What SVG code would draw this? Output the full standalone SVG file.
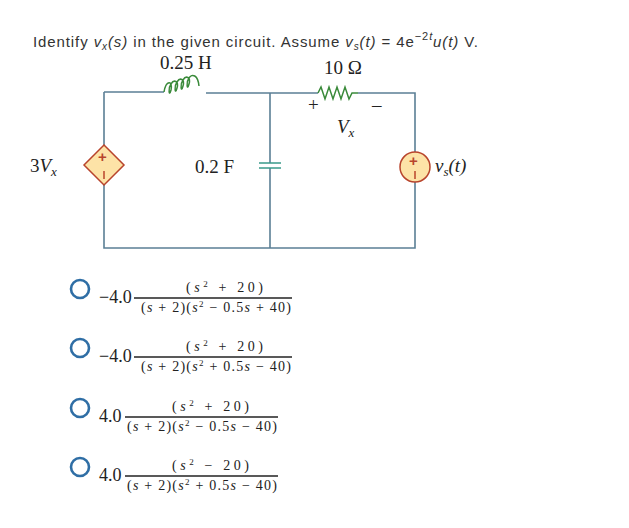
<svg xmlns="http://www.w3.org/2000/svg" width="629" height="528" viewBox="0 0 629 528">
<style>
.w{stroke:#5b7f95;stroke-width:1.6;fill:none}
.t{font-family:"Liberation Serif",serif;font-size:19px;fill:#222}
.s{font-family:"Liberation Sans",sans-serif;font-size:15px;fill:#333}
.m{font-family:"Liberation Serif",serif;font-size:14px;fill:#222}
.n{font-family:"Liberation Serif",serif;font-size:18px;fill:#222}
.o{fill:none;stroke:#2f6ea5;stroke-width:2.6}
.fl{stroke:#222;stroke-width:1.5}
</style>
<rect width="629" height="528" fill="#fff"/>
<text class="s" x="33" y="47" textLength="445" lengthAdjust="spacing">Identify <tspan font-style="italic">v</tspan><tspan font-style="italic" font-size="10" dy="3">x</tspan><tspan dy="-3" font-style="italic">(s)</tspan> in the given circuit. Assume <tspan font-style="italic">v</tspan><tspan font-style="italic" font-size="10" dy="3">s</tspan><tspan dy="-3" font-style="italic">(t)</tspan> = 4e<tspan font-size="11" dy="-7">−2</tspan><tspan font-size="11" font-style="italic">t</tspan><tspan dy="7" font-style="italic">u(t)</tspan> V.</text>
<g id="wires">
<path class="w" d="M104,92 V145 M104,185 V248 H415 V182 M415,152 V93 H358 M318,93 H270 V163 M270,168 V248 M270,93 H206 M164,92 H104"/>
</g>
<g id="inductor"><path d="M164,92 c2,-12 9,-12 7,-2 c-2,8 -3,-2 0,-6 c3,-5 8,-3 6,4 c-2,8 -3,-2 0,-6 c3,-5 8,-3 6,4 c-2,8 -3,-2 0,-6 c3,-5 8,-3 6,4 c-2,8 -3,-2 0,-6 c3,-5 9,-3 10,8" fill="none" stroke="#3a8a3a" stroke-width="1.5"/>
<text class="t" x="160" y="69">0.25 H</text></g>
<g id="resistor"><path d="M318,93 l3,-6 l4,12 l4,-12 l4,12 l4,-12 l4,12 l4,-12 l4,12 l3,-6 h6" fill="none" stroke="#3a8a3a" stroke-width="1.5"/>
<text class="t" x="324" y="74">10 Ω</text>
<text class="t" x="308" y="111">+</text><text class="t" x="372" y="111">–</text>
<text class="t" x="337" y="133" font-style="italic">V<tspan font-size="13" dy="4">x</tspan></text></g>
<g id="cap"><path d="M259,163 H281 M259,168 H281" stroke="#3a9a8a" stroke-width="1.5"/>
<text class="t" x="195" y="173">0.2 F</text></g>
<g id="dep"><path d="M104,145 L124,165 L104,185 L84,165 Z" fill="#fde3a7" stroke="#b8442c" stroke-width="1.5"/>
<text x="98" y="162" font-family="Liberation Sans,sans-serif" font-size="15" fill="#b8442c" font-weight="bold">+</text>
<path d="M104,171 v8" stroke="#b8442c" stroke-width="1.5"/>
<text class="t" x="30" y="172">3<tspan font-style="italic">V</tspan><tspan font-style="italic" font-size="13" dy="4">x</tspan></text></g>
<g id="vs"><circle cx="415" cy="167" r="15" fill="#fde3a7" stroke="#b8442c" stroke-width="1.5"/>
<text x="409" y="166" font-family="Liberation Sans,sans-serif" font-size="15" fill="#b8442c" font-weight="bold">+</text>
<path d="M415,171 v8" stroke="#b8442c" stroke-width="1.5"/>
<text class="t" x="435" y="172" font-style="italic">v<tspan font-size="13" dy="4">s</tspan><tspan dy="-4">(t)</tspan></text></g>
<g id="opt1"><circle class="o" cx="80" cy="289" r="9"/><text class="n" x="99" y="303">−4.0</text>
<line class="fl" x1="134" y1="298" x2="292" y2="298"/><text class="m" x="186" y="292" textLength="77" lengthAdjust="spacing">(<tspan font-style="italic">s</tspan><tspan font-size="9" dy="-5">2</tspan><tspan dy="5"> + 20)</tspan></text>
<text class="m" x="141" y="312" textLength="150" lengthAdjust="spacing">(<tspan font-style="italic">s</tspan> + 2)(<tspan font-style="italic">s</tspan><tspan font-size="9" dy="-5">2</tspan><tspan dy="5"> − 0.5</tspan><tspan font-style="italic">s</tspan> + 40)</text></g>
<g id="opt2"><circle class="o" cx="80" cy="348" r="9"/><text class="n" x="99" y="362">−4.0</text>
<line class="fl" x1="134" y1="357" x2="292" y2="357"/><text class="m" x="186" y="351" textLength="77" lengthAdjust="spacing">(<tspan font-style="italic">s</tspan><tspan font-size="9" dy="-5">2</tspan><tspan dy="5"> + 20)</tspan></text>
<text class="m" x="141" y="371" textLength="150" lengthAdjust="spacing">(<tspan font-style="italic">s</tspan> + 2)(<tspan font-style="italic">s</tspan><tspan font-size="9" dy="-5">2</tspan><tspan dy="5"> + 0.5</tspan><tspan font-style="italic">s</tspan> − 40)</text></g>
<g id="opt3"><circle class="o" cx="80" cy="408" r="9"/><text class="n" x="99" y="422">4.0</text>
<line class="fl" x1="125" y1="417" x2="278" y2="417"/><text class="m" x="172" y="411" textLength="77" lengthAdjust="spacing">(<tspan font-style="italic">s</tspan><tspan font-size="9" dy="-5">2</tspan><tspan dy="5"> + 20)</tspan></text>
<text class="m" x="127" y="431" textLength="150" lengthAdjust="spacing">(<tspan font-style="italic">s</tspan> + 2)(<tspan font-style="italic">s</tspan><tspan font-size="9" dy="-5">2</tspan><tspan dy="5"> − 0.5</tspan><tspan font-style="italic">s</tspan> − 40)</text></g>
<g id="opt4"><circle class="o" cx="80" cy="467" r="9"/><text class="n" x="99" y="481">4.0</text>
<line class="fl" x1="125" y1="476" x2="278" y2="476"/><text class="m" x="172" y="470" textLength="77" lengthAdjust="spacing">(<tspan font-style="italic">s</tspan><tspan font-size="9" dy="-5">2</tspan><tspan dy="5"> − 20)</tspan></text>
<text class="m" x="127" y="490" textLength="150" lengthAdjust="spacing">(<tspan font-style="italic">s</tspan> + 2)(<tspan font-style="italic">s</tspan><tspan font-size="9" dy="-5">2</tspan><tspan dy="5"> + 0.5</tspan><tspan font-style="italic">s</tspan> − 40)</text></g>
</svg>
